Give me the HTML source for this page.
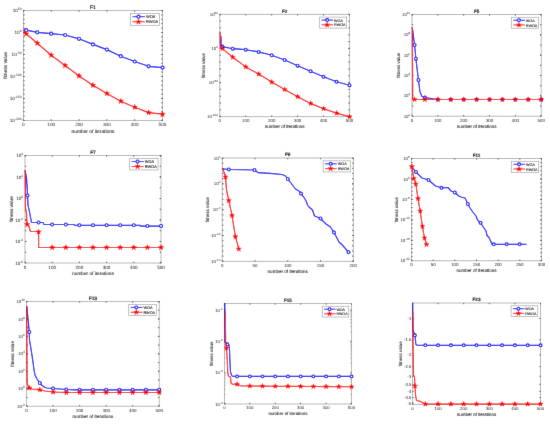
<!DOCTYPE html>
<html><head><meta charset="utf-8"><style>
html,body{margin:0;padding:0;background:#fff;}
svg{display:block;}
text.b{stroke:#262626;stroke-width:0.08px;}
text.t{stroke:#1a1a1a;stroke-width:0.22px;}
</style></head><body>
<svg width="550" height="424" viewBox="0 0 550 424" font-family='"Liberation Sans", Arial, Helvetica, sans-serif' text-rendering="geometricPrecision">
<defs><filter id="bl" x="0" y="0" width="550" height="424" filterUnits="userSpaceOnUse"><feConvolveMatrix order="3" kernelMatrix="0 1 0 1 12 1 0 1 0" edgeMode="duplicate" preserveAlpha="false"/></filter></defs>
<rect width="550" height="424" fill="#fff"/>
<g filter="url(#bl)">
<rect x="23.40" y="10.50" width="139.10" height="110.00" fill="#fff" stroke="none"/>
<rect x="23.40" y="10.50" width="139.10" height="110.00" fill="none" stroke="#a6a6a6" stroke-width="0.8"/>
<path d="M23.40,120.50v-1.30M23.40,10.50v1.30M51.22,120.50v-1.30M51.22,10.50v1.30M79.04,120.50v-1.30M79.04,10.50v1.30M106.86,120.50v-1.30M106.86,10.50v1.30M134.68,120.50v-1.30M134.68,10.50v1.30M162.50,120.50v-1.30M162.50,10.50v1.30M23.40,10.50h1.30M162.50,10.50h-1.30M23.40,32.50h1.30M162.50,32.50h-1.30M23.40,54.50h1.30M162.50,54.50h-1.30M23.40,76.50h1.30M162.50,76.50h-1.30M23.40,98.50h1.30M162.50,98.50h-1.30M23.40,120.50h1.30M162.50,120.50h-1.30" stroke="#444" stroke-width="0.9" fill="none"/>
<path d="M23.40,14.90h1.30M162.50,14.90h-1.30M23.40,19.30h1.30M162.50,19.30h-1.30M23.40,23.70h1.30M162.50,23.70h-1.30M23.40,28.10h1.30M162.50,28.10h-1.30M23.40,32.50h1.30M162.50,32.50h-1.30M23.40,36.90h1.30M162.50,36.90h-1.30M23.40,41.30h1.30M162.50,41.30h-1.30M23.40,45.70h1.30M162.50,45.70h-1.30M23.40,50.10h1.30M162.50,50.10h-1.30M23.40,54.50h1.30M162.50,54.50h-1.30M23.40,58.90h1.30M162.50,58.90h-1.30M23.40,63.30h1.30M162.50,63.30h-1.30M23.40,67.70h1.30M162.50,67.70h-1.30M23.40,72.10h1.30M162.50,72.10h-1.30M23.40,76.50h1.30M162.50,76.50h-1.30M23.40,80.90h1.30M162.50,80.90h-1.30M23.40,85.30h1.30M162.50,85.30h-1.30M23.40,89.70h1.30M162.50,89.70h-1.30M23.40,94.10h1.30M162.50,94.10h-1.30M23.40,98.50h1.30M162.50,98.50h-1.30M23.40,102.90h1.30M162.50,102.90h-1.30M23.40,107.30h1.30M162.50,107.30h-1.30M23.40,111.70h1.30M162.50,111.70h-1.30M23.40,116.10h1.30M162.50,116.10h-1.30" stroke="#444" stroke-width="0.9" fill="none"/>
<polyline points="23.70,30.30 26.18,30.20 37.31,32.30 51.22,33.70 65.13,35.00 79.04,38.80 92.95,44.40 106.86,49.60 120.77,56.20 134.68,61.50 148.59,66.30 162.50,67.60" fill="none" stroke="#0000ff" stroke-width="1.20" stroke-linejoin="round" stroke-linecap="round"/>
<circle cx="26.18" cy="30.20" r="1.55" fill="#fff" stroke="#0000ff" stroke-width="1.1"/>
<circle cx="37.31" cy="32.30" r="1.55" fill="#fff" stroke="#0000ff" stroke-width="1.1"/>
<circle cx="51.22" cy="33.70" r="1.55" fill="#fff" stroke="#0000ff" stroke-width="1.1"/>
<circle cx="65.13" cy="35.00" r="1.55" fill="#fff" stroke="#0000ff" stroke-width="1.1"/>
<circle cx="79.04" cy="38.80" r="1.55" fill="#fff" stroke="#0000ff" stroke-width="1.1"/>
<circle cx="92.95" cy="44.40" r="1.55" fill="#fff" stroke="#0000ff" stroke-width="1.1"/>
<circle cx="106.86" cy="49.60" r="1.55" fill="#fff" stroke="#0000ff" stroke-width="1.1"/>
<circle cx="120.77" cy="56.20" r="1.55" fill="#fff" stroke="#0000ff" stroke-width="1.1"/>
<circle cx="134.68" cy="61.50" r="1.55" fill="#fff" stroke="#0000ff" stroke-width="1.1"/>
<circle cx="148.59" cy="66.30" r="1.55" fill="#fff" stroke="#0000ff" stroke-width="1.1"/>
<circle cx="162.50" cy="67.60" r="1.55" fill="#fff" stroke="#0000ff" stroke-width="1.1"/>
<polyline points="23.70,30.40 26.18,33.80 37.31,43.20 51.22,55.20 65.13,65.50 79.04,75.90 92.95,85.30 106.86,93.50 120.77,101.20 134.68,107.20 148.59,112.60 162.50,114.20" fill="none" stroke="#ff0000" stroke-width="1.20" stroke-linejoin="round" stroke-linecap="round"/>
<path d="M26.18,31.00 L26.84,32.89 L28.84,32.93 L27.25,34.15 L27.83,36.07 L26.18,34.92 L24.54,36.07 L25.12,34.15 L23.52,32.93 L25.52,32.89 Z" fill="#ff0000" stroke="#ff0000" stroke-width="0.5"/>
<path d="M37.31,40.40 L37.97,42.29 L39.97,42.33 L38.38,43.55 L38.96,45.47 L37.31,44.32 L35.66,45.47 L36.24,43.55 L34.65,42.33 L36.65,42.29 Z" fill="#ff0000" stroke="#ff0000" stroke-width="0.5"/>
<path d="M51.22,52.40 L51.88,54.29 L53.88,54.33 L52.29,55.55 L52.87,57.47 L51.22,56.32 L49.57,57.47 L50.15,55.55 L48.56,54.33 L50.56,54.29 Z" fill="#ff0000" stroke="#ff0000" stroke-width="0.5"/>
<path d="M65.13,62.70 L65.79,64.59 L67.79,64.63 L66.20,65.85 L66.78,67.77 L65.13,66.62 L63.48,67.77 L64.06,65.85 L62.47,64.63 L64.47,64.59 Z" fill="#ff0000" stroke="#ff0000" stroke-width="0.5"/>
<path d="M79.04,73.10 L79.70,74.99 L81.70,75.03 L80.11,76.25 L80.69,78.17 L79.04,77.02 L77.39,78.17 L77.97,76.25 L76.38,75.03 L78.38,74.99 Z" fill="#ff0000" stroke="#ff0000" stroke-width="0.5"/>
<path d="M92.95,82.50 L93.61,84.39 L95.61,84.43 L94.02,85.65 L94.60,87.57 L92.95,86.42 L91.30,87.57 L91.88,85.65 L90.29,84.43 L92.29,84.39 Z" fill="#ff0000" stroke="#ff0000" stroke-width="0.5"/>
<path d="M106.86,90.70 L107.52,92.59 L109.52,92.63 L107.93,93.85 L108.51,95.77 L106.86,94.62 L105.21,95.77 L105.79,93.85 L104.20,92.63 L106.20,92.59 Z" fill="#ff0000" stroke="#ff0000" stroke-width="0.5"/>
<path d="M120.77,98.40 L121.43,100.29 L123.43,100.33 L121.84,101.55 L122.42,103.47 L120.77,102.32 L119.12,103.47 L119.70,101.55 L118.11,100.33 L120.11,100.29 Z" fill="#ff0000" stroke="#ff0000" stroke-width="0.5"/>
<path d="M134.68,104.40 L135.34,106.29 L137.34,106.33 L135.75,107.55 L136.33,109.47 L134.68,108.32 L133.03,109.47 L133.61,107.55 L132.02,106.33 L134.02,106.29 Z" fill="#ff0000" stroke="#ff0000" stroke-width="0.5"/>
<path d="M148.59,109.80 L149.25,111.69 L151.25,111.73 L149.66,112.95 L150.24,114.87 L148.59,113.72 L146.94,114.87 L147.52,112.95 L145.93,111.73 L147.93,111.69 Z" fill="#ff0000" stroke="#ff0000" stroke-width="0.5"/>
<path d="M162.50,111.40 L163.16,113.29 L165.16,113.33 L163.57,114.55 L164.15,116.47 L162.50,115.32 L160.85,116.47 L161.43,114.55 L159.84,113.33 L161.84,113.29 Z" fill="#ff0000" stroke="#ff0000" stroke-width="0.5"/>
<text x="23.40" y="126.49" font-size="4.70" text-anchor="middle" fill="#262626">0</text>
<text x="51.22" y="126.49" font-size="4.70" text-anchor="middle" fill="#262626">100</text>
<text x="79.04" y="126.49" font-size="4.70" text-anchor="middle" fill="#262626">200</text>
<text x="106.86" y="126.49" font-size="4.70" text-anchor="middle" fill="#262626">300</text>
<text x="134.68" y="126.49" font-size="4.70" text-anchor="middle" fill="#262626">400</text>
<text x="162.50" y="126.49" font-size="4.70" text-anchor="middle" fill="#262626">500</text>
<text x="21.50" y="12.19" font-size="4.70" text-anchor="end" fill="#262626">10<tspan font-size="3.29" dy="-2.12">50</tspan></text>
<text x="21.50" y="34.19" font-size="4.70" text-anchor="end" fill="#262626">10<tspan font-size="3.29" dy="-2.12">0</tspan></text>
<text x="21.50" y="56.19" font-size="4.70" text-anchor="end" fill="#262626">10<tspan font-size="3.29" dy="-2.12">-50</tspan></text>
<text x="21.50" y="78.19" font-size="4.70" text-anchor="end" fill="#262626">10<tspan font-size="3.29" dy="-2.12">-100</tspan></text>
<text x="21.50" y="100.19" font-size="4.70" text-anchor="end" fill="#262626">10<tspan font-size="3.29" dy="-2.12">-150</tspan></text>
<text x="21.50" y="122.19" font-size="4.70" text-anchor="end" fill="#262626">10<tspan font-size="3.29" dy="-2.12">-200</tspan></text>
<text x="92.95" y="8.70" font-size="5.00" text-anchor="middle" fill="#262626" class="t">F1</text>
<text x="92.95" y="132.75" font-size="4.85" text-anchor="middle" fill="#262626" class="b">number of iterations</text>
<text x="0" y="0" font-size="4.85" text-anchor="middle" fill="#262626" class="b" transform="translate(7.16,65.50) rotate(-90)">fitness value</text>
<rect x="130.50" y="13.50" width="29.00" height="11.80" fill="#fff" stroke="#a6a6a6" stroke-width="0.7"/>
<line x1="132.50" y1="16.70" x2="145.00" y2="16.70" stroke="#0000ff" stroke-width="0.9"/>
<circle cx="138.50" cy="16.70" r="1.55" fill="#fff" stroke="#0000ff" stroke-width="1.1"/>
<text x="146.00" y="18.39" font-size="3.95" fill="#222" stroke="#222" stroke-width="0.12">WOA</text>
<line x1="132.50" y1="21.80" x2="145.00" y2="21.80" stroke="#ff0000" stroke-width="0.9"/>
<path d="M138.50,19.00 L139.16,20.89 L141.16,20.93 L139.57,22.15 L140.15,24.07 L138.50,22.92 L136.85,24.07 L137.43,22.15 L135.84,20.93 L137.84,20.89 Z" fill="#ff0000" stroke="#ff0000" stroke-width="0.5"/>
<text x="146.00" y="23.49" font-size="3.95" fill="#222" stroke="#222" stroke-width="0.12">RWOA</text>
<rect x="219.80" y="14.30" width="129.70" height="102.40" fill="#fff" stroke="none"/>
<rect x="219.80" y="14.30" width="129.70" height="102.40" fill="none" stroke="#a6a6a6" stroke-width="0.8"/>
<path d="M219.80,116.70v-1.21M219.80,14.30v1.21M245.74,116.70v-1.21M245.74,14.30v1.21M271.68,116.70v-1.21M271.68,14.30v1.21M297.62,116.70v-1.21M297.62,14.30v1.21M323.56,116.70v-1.21M323.56,14.30v1.21M349.50,116.70v-1.21M349.50,14.30v1.21M219.80,14.30h1.21M349.50,14.30h-1.21M219.80,48.43h1.21M349.50,48.43h-1.21M219.80,82.57h1.21M349.50,82.57h-1.21M219.80,116.70h1.21M349.50,116.70h-1.21" stroke="#444" stroke-width="0.9" fill="none"/>
<path d="M219.80,21.13h1.21M349.50,21.13h-1.21M219.80,27.95h1.21M349.50,27.95h-1.21M219.80,34.78h1.21M349.50,34.78h-1.21M219.80,41.61h1.21M349.50,41.61h-1.21M219.80,48.43h1.21M349.50,48.43h-1.21M219.80,55.26h1.21M349.50,55.26h-1.21M219.80,62.09h1.21M349.50,62.09h-1.21M219.80,68.91h1.21M349.50,68.91h-1.21M219.80,75.74h1.21M349.50,75.74h-1.21M219.80,82.57h1.21M349.50,82.57h-1.21M219.80,89.39h1.21M349.50,89.39h-1.21M219.80,96.22h1.21M349.50,96.22h-1.21M219.80,103.05h1.21M349.50,103.05h-1.21M219.80,109.87h1.21M349.50,109.87h-1.21" stroke="#444" stroke-width="0.9" fill="none"/>
<polyline points="221.00,36.50 221.10,46.00 222.39,46.60 232.77,48.70 245.74,49.70 258.71,51.90 271.68,55.20 284.65,60.00 297.62,65.70 310.59,71.20 323.56,76.80 336.53,81.80 349.50,85.20" fill="none" stroke="#0000ff" stroke-width="1.16" stroke-linejoin="round" stroke-linecap="round"/>
<circle cx="222.39" cy="46.60" r="1.45" fill="#fff" stroke="#0000ff" stroke-width="1.1"/>
<circle cx="232.77" cy="48.70" r="1.45" fill="#fff" stroke="#0000ff" stroke-width="1.1"/>
<circle cx="245.74" cy="49.70" r="1.45" fill="#fff" stroke="#0000ff" stroke-width="1.1"/>
<circle cx="258.71" cy="51.90" r="1.45" fill="#fff" stroke="#0000ff" stroke-width="1.1"/>
<circle cx="271.68" cy="55.20" r="1.45" fill="#fff" stroke="#0000ff" stroke-width="1.1"/>
<circle cx="284.65" cy="60.00" r="1.45" fill="#fff" stroke="#0000ff" stroke-width="1.1"/>
<circle cx="297.62" cy="65.70" r="1.45" fill="#fff" stroke="#0000ff" stroke-width="1.1"/>
<circle cx="310.59" cy="71.20" r="1.45" fill="#fff" stroke="#0000ff" stroke-width="1.1"/>
<circle cx="323.56" cy="76.80" r="1.45" fill="#fff" stroke="#0000ff" stroke-width="1.1"/>
<circle cx="336.53" cy="81.80" r="1.45" fill="#fff" stroke="#0000ff" stroke-width="1.1"/>
<circle cx="349.50" cy="85.20" r="1.45" fill="#fff" stroke="#0000ff" stroke-width="1.1"/>
<polyline points="220.20,32.00 220.30,46.50 222.39,48.60 232.77,57.20 245.74,66.90 258.71,74.10 271.68,82.10 284.65,89.50 297.62,96.70 310.59,103.40 323.56,108.70 336.53,113.10 349.50,116.70" fill="none" stroke="#ff0000" stroke-width="1.16" stroke-linejoin="round" stroke-linecap="round"/>
<path d="M222.39,45.99 L223.01,47.76 L224.88,47.79 L223.39,48.92 L223.93,50.71 L222.39,49.64 L220.86,50.71 L221.40,48.92 L219.91,47.79 L221.78,47.76 Z" fill="#ff0000" stroke="#ff0000" stroke-width="0.5"/>
<path d="M232.77,54.59 L233.38,56.36 L235.25,56.39 L233.76,57.52 L234.30,59.31 L232.77,58.24 L231.24,59.31 L231.78,57.52 L230.29,56.39 L232.16,56.36 Z" fill="#ff0000" stroke="#ff0000" stroke-width="0.5"/>
<path d="M245.74,64.29 L246.35,66.06 L248.22,66.09 L246.73,67.22 L247.27,69.01 L245.74,67.94 L244.21,69.01 L244.75,67.22 L243.26,66.09 L245.13,66.06 Z" fill="#ff0000" stroke="#ff0000" stroke-width="0.5"/>
<path d="M258.71,71.49 L259.32,73.26 L261.19,73.29 L259.70,74.42 L260.24,76.21 L258.71,75.14 L257.18,76.21 L257.72,74.42 L256.23,73.29 L258.10,73.26 Z" fill="#ff0000" stroke="#ff0000" stroke-width="0.5"/>
<path d="M271.68,79.49 L272.29,81.26 L274.16,81.29 L272.67,82.42 L273.21,84.21 L271.68,83.14 L270.15,84.21 L270.69,82.42 L269.20,81.29 L271.07,81.26 Z" fill="#ff0000" stroke="#ff0000" stroke-width="0.5"/>
<path d="M284.65,86.89 L285.26,88.66 L287.13,88.69 L285.64,89.82 L286.18,91.61 L284.65,90.54 L283.12,91.61 L283.66,89.82 L282.17,88.69 L284.04,88.66 Z" fill="#ff0000" stroke="#ff0000" stroke-width="0.5"/>
<path d="M297.62,94.09 L298.23,95.86 L300.10,95.89 L298.61,97.02 L299.15,98.81 L297.62,97.74 L296.09,98.81 L296.63,97.02 L295.14,95.89 L297.01,95.86 Z" fill="#ff0000" stroke="#ff0000" stroke-width="0.5"/>
<path d="M310.59,100.79 L311.20,102.56 L313.07,102.59 L311.58,103.72 L312.12,105.51 L310.59,104.44 L309.06,105.51 L309.60,103.72 L308.11,102.59 L309.98,102.56 Z" fill="#ff0000" stroke="#ff0000" stroke-width="0.5"/>
<path d="M323.56,106.09 L324.17,107.86 L326.04,107.89 L324.55,109.02 L325.09,110.81 L323.56,109.74 L322.03,110.81 L322.57,109.02 L321.08,107.89 L322.95,107.86 Z" fill="#ff0000" stroke="#ff0000" stroke-width="0.5"/>
<path d="M336.53,110.49 L337.14,112.26 L339.01,112.29 L337.52,113.42 L338.06,115.21 L336.53,114.14 L335.00,115.21 L335.54,113.42 L334.05,112.29 L335.92,112.26 Z" fill="#ff0000" stroke="#ff0000" stroke-width="0.5"/>
<path d="M349.50,114.09 L350.11,115.86 L351.98,115.89 L350.49,117.02 L351.03,118.81 L349.50,117.74 L347.97,118.81 L348.51,117.02 L347.02,115.89 L348.89,115.86 Z" fill="#ff0000" stroke="#ff0000" stroke-width="0.5"/>
<text x="219.80" y="122.29" font-size="4.38" text-anchor="middle" fill="#262626">0</text>
<text x="245.74" y="122.29" font-size="4.38" text-anchor="middle" fill="#262626">100</text>
<text x="271.68" y="122.29" font-size="4.38" text-anchor="middle" fill="#262626">200</text>
<text x="297.62" y="122.29" font-size="4.38" text-anchor="middle" fill="#262626">300</text>
<text x="323.56" y="122.29" font-size="4.38" text-anchor="middle" fill="#262626">400</text>
<text x="349.50" y="122.29" font-size="4.38" text-anchor="middle" fill="#262626">500</text>
<text x="218.03" y="15.88" font-size="4.38" text-anchor="end" fill="#262626">10<tspan font-size="3.07" dy="-1.97">50</tspan></text>
<text x="218.03" y="50.01" font-size="4.38" text-anchor="end" fill="#262626">10<tspan font-size="3.07" dy="-1.97">0</tspan></text>
<text x="218.03" y="84.14" font-size="4.38" text-anchor="end" fill="#262626">10<tspan font-size="3.07" dy="-1.97">-50</tspan></text>
<text x="218.03" y="118.28" font-size="4.38" text-anchor="end" fill="#262626">10<tspan font-size="3.07" dy="-1.97">-100</tspan></text>
<text x="284.65" y="12.62" font-size="4.66" text-anchor="middle" fill="#262626" class="t">F2</text>
<text x="284.65" y="128.12" font-size="4.52" text-anchor="middle" fill="#262626" class="b">number of iterations</text>
<text x="0" y="0" font-size="4.52" text-anchor="middle" fill="#262626" class="b" transform="translate(204.96,65.50) rotate(-90)">fitness value</text>
<rect x="319.66" y="17.10" width="27.04" height="11.00" fill="#fff" stroke="#a6a6a6" stroke-width="0.7"/>
<line x1="321.53" y1="20.08" x2="333.18" y2="20.08" stroke="#0000ff" stroke-width="0.9"/>
<circle cx="327.12" cy="20.08" r="1.45" fill="#fff" stroke="#0000ff" stroke-width="1.1"/>
<text x="334.12" y="21.66" font-size="3.68" fill="#222" stroke="#222" stroke-width="0.12">WOA</text>
<line x1="321.53" y1="24.84" x2="333.18" y2="24.84" stroke="#ff0000" stroke-width="0.9"/>
<path d="M327.12,22.23 L327.74,23.99 L329.60,24.03 L328.12,25.16 L328.66,26.95 L327.12,25.88 L325.59,26.95 L326.13,25.16 L324.64,24.03 L326.51,23.99 Z" fill="#ff0000" stroke="#ff0000" stroke-width="0.5"/>
<text x="334.12" y="26.41" font-size="3.68" fill="#222" stroke="#222" stroke-width="0.12">RWOA</text>
<rect x="412.00" y="14.50" width="129.20" height="101.70" fill="#fff" stroke="none"/>
<rect x="412.00" y="14.50" width="129.20" height="101.70" fill="none" stroke="#a6a6a6" stroke-width="0.8"/>
<path d="M412.00,116.20v-1.21M412.00,14.50v1.21M437.84,116.20v-1.21M437.84,14.50v1.21M463.68,116.20v-1.21M463.68,14.50v1.21M489.52,116.20v-1.21M489.52,14.50v1.21M515.36,116.20v-1.21M515.36,14.50v1.21M541.20,116.20v-1.21M541.20,14.50v1.21M412.00,14.50h1.21M541.20,14.50h-1.21M412.00,34.84h1.21M541.20,34.84h-1.21M412.00,55.18h1.21M541.20,55.18h-1.21M412.00,75.52h1.21M541.20,75.52h-1.21M412.00,95.86h1.21M541.20,95.86h-1.21M412.00,116.20h1.21M541.20,116.20h-1.21" stroke="#444" stroke-width="0.9" fill="none"/>
<path d="M412.00,24.67h1.21M541.20,24.67h-1.21M412.00,34.84h1.21M541.20,34.84h-1.21M412.00,45.01h1.21M541.20,45.01h-1.21M412.00,55.18h1.21M541.20,55.18h-1.21M412.00,65.35h1.21M541.20,65.35h-1.21M412.00,75.52h1.21M541.20,75.52h-1.21M412.00,85.69h1.21M541.20,85.69h-1.21M412.00,95.86h1.21M541.20,95.86h-1.21M412.00,106.03h1.21M541.20,106.03h-1.21" stroke="#444" stroke-width="0.9" fill="none"/>
<polyline points="412.30,27.50 414.58,45.00 415.88,58.70 418.46,80.00 420.00,92.00 422.00,96.50 424.92,97.50 437.84,99.50 450.76,99.50 463.68,99.50 476.60,99.50 489.52,99.50 502.44,99.50 515.36,99.50 528.28,99.50 541.20,99.50" fill="none" stroke="#0000ff" stroke-width="1.16" stroke-linejoin="round" stroke-linecap="round"/>
<circle cx="414.58" cy="45.00" r="1.44" fill="#fff" stroke="#0000ff" stroke-width="1.1"/>
<circle cx="415.88" cy="58.70" r="1.44" fill="#fff" stroke="#0000ff" stroke-width="1.1"/>
<circle cx="418.46" cy="80.00" r="1.44" fill="#fff" stroke="#0000ff" stroke-width="1.1"/>
<circle cx="424.92" cy="97.50" r="1.44" fill="#fff" stroke="#0000ff" stroke-width="1.1"/>
<circle cx="437.84" cy="99.50" r="1.44" fill="#fff" stroke="#0000ff" stroke-width="1.1"/>
<circle cx="450.76" cy="99.50" r="1.44" fill="#fff" stroke="#0000ff" stroke-width="1.1"/>
<circle cx="463.68" cy="99.50" r="1.44" fill="#fff" stroke="#0000ff" stroke-width="1.1"/>
<circle cx="476.60" cy="99.50" r="1.44" fill="#fff" stroke="#0000ff" stroke-width="1.1"/>
<circle cx="489.52" cy="99.50" r="1.44" fill="#fff" stroke="#0000ff" stroke-width="1.1"/>
<circle cx="502.44" cy="99.50" r="1.44" fill="#fff" stroke="#0000ff" stroke-width="1.1"/>
<circle cx="515.36" cy="99.50" r="1.44" fill="#fff" stroke="#0000ff" stroke-width="1.1"/>
<circle cx="528.28" cy="99.50" r="1.44" fill="#fff" stroke="#0000ff" stroke-width="1.1"/>
<circle cx="541.20" cy="99.50" r="1.44" fill="#fff" stroke="#0000ff" stroke-width="1.1"/>
<polyline points="412.30,27.50 412.70,99.50 541.20,99.50" fill="none" stroke="#ff0000" stroke-width="1.16" stroke-linejoin="round" stroke-linecap="round"/>
<path d="M414.58,96.90 L415.20,98.66 L417.06,98.70 L415.57,99.82 L416.11,101.60 L414.58,100.54 L413.06,101.60 L413.59,99.82 L412.11,98.70 L413.97,98.66 Z" fill="#ff0000" stroke="#ff0000" stroke-width="0.5"/>
<path d="M424.92,96.90 L425.53,98.66 L427.39,98.70 L425.91,99.82 L426.45,101.60 L424.92,100.54 L423.39,101.60 L423.93,99.82 L422.45,98.70 L424.31,98.66 Z" fill="#ff0000" stroke="#ff0000" stroke-width="0.5"/>
<path d="M437.84,96.90 L438.45,98.66 L440.31,98.70 L438.83,99.82 L439.37,101.60 L437.84,100.54 L436.31,101.60 L436.85,99.82 L435.37,98.70 L437.23,98.66 Z" fill="#ff0000" stroke="#ff0000" stroke-width="0.5"/>
<path d="M450.76,96.90 L451.37,98.66 L453.23,98.70 L451.75,99.82 L452.29,101.60 L450.76,100.54 L449.23,101.60 L449.77,99.82 L448.29,98.70 L450.15,98.66 Z" fill="#ff0000" stroke="#ff0000" stroke-width="0.5"/>
<path d="M463.68,96.90 L464.29,98.66 L466.15,98.70 L464.67,99.82 L465.21,101.60 L463.68,100.54 L462.15,101.60 L462.69,99.82 L461.21,98.70 L463.07,98.66 Z" fill="#ff0000" stroke="#ff0000" stroke-width="0.5"/>
<path d="M476.60,96.90 L477.21,98.66 L479.07,98.70 L477.59,99.82 L478.13,101.60 L476.60,100.54 L475.07,101.60 L475.61,99.82 L474.13,98.70 L475.99,98.66 Z" fill="#ff0000" stroke="#ff0000" stroke-width="0.5"/>
<path d="M489.52,96.90 L490.13,98.66 L491.99,98.70 L490.51,99.82 L491.05,101.60 L489.52,100.54 L487.99,101.60 L488.53,99.82 L487.05,98.70 L488.91,98.66 Z" fill="#ff0000" stroke="#ff0000" stroke-width="0.5"/>
<path d="M502.44,96.90 L503.05,98.66 L504.91,98.70 L503.43,99.82 L503.97,101.60 L502.44,100.54 L500.91,101.60 L501.45,99.82 L499.97,98.70 L501.83,98.66 Z" fill="#ff0000" stroke="#ff0000" stroke-width="0.5"/>
<path d="M515.36,96.90 L515.97,98.66 L517.83,98.70 L516.35,99.82 L516.89,101.60 L515.36,100.54 L513.83,101.60 L514.37,99.82 L512.89,98.70 L514.75,98.66 Z" fill="#ff0000" stroke="#ff0000" stroke-width="0.5"/>
<path d="M528.28,96.90 L528.89,98.66 L530.75,98.70 L529.27,99.82 L529.81,101.60 L528.28,100.54 L526.75,101.60 L527.29,99.82 L525.81,98.70 L527.67,98.66 Z" fill="#ff0000" stroke="#ff0000" stroke-width="0.5"/>
<path d="M541.20,96.90 L541.81,98.66 L543.67,98.70 L542.19,99.82 L542.73,101.60 L541.20,100.54 L539.67,101.60 L540.21,99.82 L538.73,98.70 L540.59,98.66 Z" fill="#ff0000" stroke="#ff0000" stroke-width="0.5"/>
<text x="412.00" y="121.77" font-size="4.37" text-anchor="middle" fill="#262626">0</text>
<text x="437.84" y="121.77" font-size="4.37" text-anchor="middle" fill="#262626">100</text>
<text x="463.68" y="121.77" font-size="4.37" text-anchor="middle" fill="#262626">200</text>
<text x="489.52" y="121.77" font-size="4.37" text-anchor="middle" fill="#262626">300</text>
<text x="515.36" y="121.77" font-size="4.37" text-anchor="middle" fill="#262626">400</text>
<text x="541.20" y="121.77" font-size="4.37" text-anchor="middle" fill="#262626">500</text>
<text x="410.24" y="16.07" font-size="4.37" text-anchor="end" fill="#262626">10<tspan font-size="3.06" dy="-1.96">10</tspan></text>
<text x="410.24" y="36.41" font-size="4.37" text-anchor="end" fill="#262626">10<tspan font-size="3.06" dy="-1.96">8</tspan></text>
<text x="410.24" y="56.75" font-size="4.37" text-anchor="end" fill="#262626">10<tspan font-size="3.06" dy="-1.96">6</tspan></text>
<text x="410.24" y="77.09" font-size="4.37" text-anchor="end" fill="#262626">10<tspan font-size="3.06" dy="-1.96">4</tspan></text>
<text x="410.24" y="97.43" font-size="4.37" text-anchor="end" fill="#262626">10<tspan font-size="3.06" dy="-1.96">2</tspan></text>
<text x="410.24" y="117.77" font-size="4.37" text-anchor="end" fill="#262626">10<tspan font-size="3.06" dy="-1.96">0</tspan></text>
<text x="476.60" y="12.83" font-size="4.64" text-anchor="middle" fill="#262626" class="t">F5</text>
<text x="476.60" y="127.57" font-size="4.50" text-anchor="middle" fill="#262626" class="b">number of iterations</text>
<text x="0" y="0" font-size="4.50" text-anchor="middle" fill="#262626" class="b" transform="translate(399.75,65.35) rotate(-90)">fitness value</text>
<rect x="511.48" y="17.29" width="26.94" height="10.96" fill="#fff" stroke="#a6a6a6" stroke-width="0.7"/>
<line x1="513.34" y1="20.26" x2="524.95" y2="20.26" stroke="#0000ff" stroke-width="0.9"/>
<circle cx="518.91" cy="20.26" r="1.44" fill="#fff" stroke="#0000ff" stroke-width="1.1"/>
<text x="525.87" y="21.83" font-size="3.67" fill="#222" stroke="#222" stroke-width="0.12">WOA</text>
<line x1="513.34" y1="25.00" x2="524.95" y2="25.00" stroke="#ff0000" stroke-width="0.9"/>
<path d="M518.91,22.40 L519.52,24.15 L521.38,24.19 L519.90,25.32 L520.44,27.10 L518.91,26.04 L517.38,27.10 L517.92,25.32 L516.43,24.19 L518.30,24.15 Z" fill="#ff0000" stroke="#ff0000" stroke-width="0.5"/>
<text x="525.87" y="26.57" font-size="3.67" fill="#222" stroke="#222" stroke-width="0.12">RWOA</text>
<rect x="25.00" y="155.50" width="136.00" height="107.50" fill="#fff" stroke="none"/>
<rect x="25.00" y="155.50" width="136.00" height="107.50" fill="none" stroke="#a6a6a6" stroke-width="0.8"/>
<path d="M25.00,263.00v-1.27M25.00,155.50v1.27M52.20,263.00v-1.27M52.20,155.50v1.27M79.40,263.00v-1.27M79.40,155.50v1.27M106.60,263.00v-1.27M106.60,155.50v1.27M133.80,263.00v-1.27M133.80,155.50v1.27M161.00,263.00v-1.27M161.00,155.50v1.27M25.00,155.50h1.27M161.00,155.50h-1.27M25.00,177.00h1.27M161.00,177.00h-1.27M25.00,198.50h1.27M161.00,198.50h-1.27M25.00,220.00h1.27M161.00,220.00h-1.27M25.00,241.50h1.27M161.00,241.50h-1.27M25.00,263.00h1.27M161.00,263.00h-1.27" stroke="#444" stroke-width="0.9" fill="none"/>
<path d="M25.00,166.25h1.27M161.00,166.25h-1.27M25.00,177.00h1.27M161.00,177.00h-1.27M25.00,187.75h1.27M161.00,187.75h-1.27M25.00,198.50h1.27M161.00,198.50h-1.27M25.00,209.25h1.27M161.00,209.25h-1.27M25.00,220.00h1.27M161.00,220.00h-1.27M25.00,230.75h1.27M161.00,230.75h-1.27M25.00,241.50h1.27M161.00,241.50h-1.27M25.00,252.25h1.27M161.00,252.25h-1.27" stroke="#444" stroke-width="0.9" fill="none"/>
<polyline points="25.20,170.50 26.50,178.00 27.20,188.00 27.50,195.50 28.00,205.00 29.50,212.00 31.50,222.50 38.60,222.50 43.00,222.50 44.00,224.50 74.00,224.50 74.50,225.30 140.00,225.30 140.50,226.10 161.00,226.10" fill="none" stroke="#0000ff" stroke-width="1.19" stroke-linejoin="round" stroke-linecap="round"/>
<circle cx="27.50" cy="195.50" r="1.52" fill="#fff" stroke="#0000ff" stroke-width="1.1"/>
<circle cx="38.60" cy="222.50" r="1.52" fill="#fff" stroke="#0000ff" stroke-width="1.1"/>
<circle cx="52.20" cy="224.50" r="1.52" fill="#fff" stroke="#0000ff" stroke-width="1.1"/>
<circle cx="65.80" cy="224.50" r="1.52" fill="#fff" stroke="#0000ff" stroke-width="1.1"/>
<circle cx="79.40" cy="225.30" r="1.52" fill="#fff" stroke="#0000ff" stroke-width="1.1"/>
<circle cx="93.00" cy="225.30" r="1.52" fill="#fff" stroke="#0000ff" stroke-width="1.1"/>
<circle cx="106.60" cy="225.30" r="1.52" fill="#fff" stroke="#0000ff" stroke-width="1.1"/>
<circle cx="120.20" cy="225.30" r="1.52" fill="#fff" stroke="#0000ff" stroke-width="1.1"/>
<circle cx="133.80" cy="225.30" r="1.52" fill="#fff" stroke="#0000ff" stroke-width="1.1"/>
<circle cx="147.40" cy="226.00" r="1.52" fill="#fff" stroke="#0000ff" stroke-width="1.1"/>
<circle cx="161.00" cy="226.00" r="1.52" fill="#fff" stroke="#0000ff" stroke-width="1.1"/>
<polyline points="25.20,170.50 25.50,209.00 26.50,213.00 27.00,224.50 29.00,226.00 30.00,230.00 30.50,231.50 38.60,231.50 38.60,247.50 161.00,247.50" fill="none" stroke="#ff0000" stroke-width="1.19" stroke-linejoin="round" stroke-linecap="round"/>
<path d="M27.20,221.76 L27.84,223.61 L29.80,223.65 L28.24,224.84 L28.81,226.71 L27.20,225.60 L25.59,226.71 L26.16,224.84 L24.60,223.65 L26.56,223.61 Z" fill="#ff0000" stroke="#ff0000" stroke-width="0.5"/>
<path d="M38.60,229.06 L39.24,230.91 L41.20,230.95 L39.64,232.14 L40.21,234.01 L38.60,232.90 L36.99,234.01 L37.56,232.14 L36.00,230.95 L37.96,230.91 Z" fill="#ff0000" stroke="#ff0000" stroke-width="0.5"/>
<path d="M52.20,244.76 L52.84,246.61 L54.80,246.65 L53.24,247.84 L53.81,249.71 L52.20,248.60 L50.59,249.71 L51.16,247.84 L49.60,246.65 L51.56,246.61 Z" fill="#ff0000" stroke="#ff0000" stroke-width="0.5"/>
<path d="M65.80,244.76 L66.44,246.61 L68.40,246.65 L66.84,247.84 L67.41,249.71 L65.80,248.60 L64.19,249.71 L64.76,247.84 L63.20,246.65 L65.16,246.61 Z" fill="#ff0000" stroke="#ff0000" stroke-width="0.5"/>
<path d="M79.40,244.76 L80.04,246.61 L82.00,246.65 L80.44,247.84 L81.01,249.71 L79.40,248.60 L77.79,249.71 L78.36,247.84 L76.80,246.65 L78.76,246.61 Z" fill="#ff0000" stroke="#ff0000" stroke-width="0.5"/>
<path d="M93.00,244.76 L93.64,246.61 L95.60,246.65 L94.04,247.84 L94.61,249.71 L93.00,248.60 L91.39,249.71 L91.96,247.84 L90.40,246.65 L92.36,246.61 Z" fill="#ff0000" stroke="#ff0000" stroke-width="0.5"/>
<path d="M106.60,244.76 L107.24,246.61 L109.20,246.65 L107.64,247.84 L108.21,249.71 L106.60,248.60 L104.99,249.71 L105.56,247.84 L104.00,246.65 L105.96,246.61 Z" fill="#ff0000" stroke="#ff0000" stroke-width="0.5"/>
<path d="M120.20,244.76 L120.84,246.61 L122.80,246.65 L121.24,247.84 L121.81,249.71 L120.20,248.60 L118.59,249.71 L119.16,247.84 L117.60,246.65 L119.56,246.61 Z" fill="#ff0000" stroke="#ff0000" stroke-width="0.5"/>
<path d="M133.80,244.76 L134.44,246.61 L136.40,246.65 L134.84,247.84 L135.41,249.71 L133.80,248.60 L132.19,249.71 L132.76,247.84 L131.20,246.65 L133.16,246.61 Z" fill="#ff0000" stroke="#ff0000" stroke-width="0.5"/>
<path d="M147.40,244.76 L148.04,246.61 L150.00,246.65 L148.44,247.84 L149.01,249.71 L147.40,248.60 L145.79,249.71 L146.36,247.84 L144.80,246.65 L146.76,246.61 Z" fill="#ff0000" stroke="#ff0000" stroke-width="0.5"/>
<path d="M161.00,244.76 L161.64,246.61 L163.60,246.65 L162.04,247.84 L162.61,249.71 L161.00,248.60 L159.39,249.71 L159.96,247.84 L158.40,246.65 L160.36,246.61 Z" fill="#ff0000" stroke="#ff0000" stroke-width="0.5"/>
<text x="25.00" y="268.86" font-size="4.60" text-anchor="middle" fill="#262626">0</text>
<text x="52.20" y="268.86" font-size="4.60" text-anchor="middle" fill="#262626">100</text>
<text x="79.40" y="268.86" font-size="4.60" text-anchor="middle" fill="#262626">200</text>
<text x="106.60" y="268.86" font-size="4.60" text-anchor="middle" fill="#262626">300</text>
<text x="133.80" y="268.86" font-size="4.60" text-anchor="middle" fill="#262626">400</text>
<text x="161.00" y="268.86" font-size="4.60" text-anchor="middle" fill="#262626">500</text>
<text x="23.14" y="157.15" font-size="4.60" text-anchor="end" fill="#262626">10<tspan font-size="3.22" dy="-2.07">4</tspan></text>
<text x="23.14" y="178.65" font-size="4.60" text-anchor="end" fill="#262626">10<tspan font-size="3.22" dy="-2.07">2</tspan></text>
<text x="23.14" y="200.15" font-size="4.60" text-anchor="end" fill="#262626">10<tspan font-size="3.22" dy="-2.07">0</tspan></text>
<text x="23.14" y="221.65" font-size="4.60" text-anchor="end" fill="#262626">10<tspan font-size="3.22" dy="-2.07">-2</tspan></text>
<text x="23.14" y="243.15" font-size="4.60" text-anchor="end" fill="#262626">10<tspan font-size="3.22" dy="-2.07">-4</tspan></text>
<text x="23.14" y="264.65" font-size="4.60" text-anchor="end" fill="#262626">10<tspan font-size="3.22" dy="-2.07">-6</tspan></text>
<text x="93.00" y="153.74" font-size="4.89" text-anchor="middle" fill="#262626" class="t">F7</text>
<text x="93.00" y="274.97" font-size="4.74" text-anchor="middle" fill="#262626" class="b">number of iterations</text>
<text x="0" y="0" font-size="4.74" text-anchor="middle" fill="#262626" class="b" transform="translate(13.02,209.25) rotate(-90)">fitness value</text>
<rect x="129.71" y="158.43" width="28.35" height="11.54" fill="#fff" stroke="#a6a6a6" stroke-width="0.7"/>
<line x1="131.67" y1="161.56" x2="143.89" y2="161.56" stroke="#0000ff" stroke-width="0.9"/>
<circle cx="137.53" cy="161.56" r="1.52" fill="#fff" stroke="#0000ff" stroke-width="1.1"/>
<text x="144.87" y="163.22" font-size="3.86" fill="#222" stroke="#222" stroke-width="0.12">WOA</text>
<line x1="131.67" y1="166.55" x2="143.89" y2="166.55" stroke="#ff0000" stroke-width="0.9"/>
<path d="M137.53,163.81 L138.18,165.66 L140.14,165.70 L138.58,166.89 L139.14,168.76 L137.53,167.64 L135.93,168.76 L136.49,166.89 L134.93,165.70 L136.89,165.66 Z" fill="#ff0000" stroke="#ff0000" stroke-width="0.5"/>
<text x="144.87" y="168.20" font-size="3.86" fill="#222" stroke="#222" stroke-width="0.12">RWOA</text>
<rect x="222.20" y="158.00" width="131.10" height="103.30" fill="#fff" stroke="none"/>
<rect x="222.20" y="158.00" width="131.10" height="103.30" fill="none" stroke="#a6a6a6" stroke-width="0.8"/>
<path d="M222.20,261.30v-1.23M222.20,158.00v1.23M254.97,261.30v-1.23M254.97,158.00v1.23M287.75,261.30v-1.23M287.75,158.00v1.23M320.52,261.30v-1.23M320.52,158.00v1.23M353.30,261.30v-1.23M353.30,158.00v1.23M222.20,158.00h1.23M353.30,158.00h-1.23M222.20,183.82h1.23M353.30,183.82h-1.23M222.20,209.65h1.23M353.30,209.65h-1.23M222.20,235.48h1.23M353.30,235.48h-1.23M222.20,261.30h1.23M353.30,261.30h-1.23" stroke="#444" stroke-width="0.9" fill="none"/>
<path d="M222.20,163.16h1.23M353.30,163.16h-1.23M222.20,168.33h1.23M353.30,168.33h-1.23M222.20,173.50h1.23M353.30,173.50h-1.23M222.20,178.66h1.23M353.30,178.66h-1.23M222.20,183.82h1.23M353.30,183.82h-1.23M222.20,188.99h1.23M353.30,188.99h-1.23M222.20,194.16h1.23M353.30,194.16h-1.23M222.20,199.32h1.23M353.30,199.32h-1.23M222.20,204.49h1.23M353.30,204.49h-1.23M222.20,209.65h1.23M353.30,209.65h-1.23M222.20,214.81h1.23M353.30,214.81h-1.23M222.20,219.98h1.23M353.30,219.98h-1.23M222.20,225.15h1.23M353.30,225.15h-1.23M222.20,230.31h1.23M353.30,230.31h-1.23M222.20,235.48h1.23M353.30,235.48h-1.23M222.20,240.64h1.23M353.30,240.64h-1.23M222.20,245.81h1.23M353.30,245.81h-1.23M222.20,250.97h1.23M353.30,250.97h-1.23M222.20,256.13h1.23M353.30,256.13h-1.23" stroke="#444" stroke-width="0.9" fill="none"/>
<polyline points="222.50,168.80 228.80,169.50 254.50,170.00 258.00,172.60 270.00,173.30 282.00,174.50 285.50,176.00 287.80,179.00 291.00,183.00 295.50,189.00 299.00,191.00 301.00,193.50 305.00,199.00 306.50,202.00 307.50,205.00 309.00,207.00 312.50,210.00 314.50,216.00 316.00,216.50 320.50,218.50 326.00,224.00 330.50,227.00 334.00,232.50 339.00,242.00 342.30,245.00 348.50,252.20" fill="none" stroke="#0000ff" stroke-width="1.17" stroke-linejoin="round" stroke-linecap="round"/>
<circle cx="228.80" cy="169.50" r="1.46" fill="#fff" stroke="#0000ff" stroke-width="1.1"/>
<circle cx="254.50" cy="170.00" r="1.46" fill="#fff" stroke="#0000ff" stroke-width="1.1"/>
<circle cx="287.80" cy="179.00" r="1.46" fill="#fff" stroke="#0000ff" stroke-width="1.1"/>
<circle cx="301.00" cy="193.50" r="1.46" fill="#fff" stroke="#0000ff" stroke-width="1.1"/>
<circle cx="320.50" cy="218.50" r="1.46" fill="#fff" stroke="#0000ff" stroke-width="1.1"/>
<circle cx="334.00" cy="232.50" r="1.46" fill="#fff" stroke="#0000ff" stroke-width="1.1"/>
<circle cx="348.50" cy="252.20" r="1.46" fill="#fff" stroke="#0000ff" stroke-width="1.1"/>
<polyline points="222.50,168.80 224.00,172.00 225.50,177.00 226.50,190.00 228.80,200.50 232.00,215.50 235.40,236.70 238.80,249.00" fill="none" stroke="#ff0000" stroke-width="1.17" stroke-linejoin="round" stroke-linecap="round"/>
<path d="M225.50,174.36 L226.12,176.15 L228.01,176.18 L226.50,177.33 L227.05,179.13 L225.50,178.06 L223.95,179.13 L224.50,177.33 L222.99,176.18 L224.88,176.15 Z" fill="#ff0000" stroke="#ff0000" stroke-width="0.5"/>
<path d="M228.80,197.86 L229.42,199.65 L231.31,199.68 L229.80,200.83 L230.35,202.63 L228.80,201.56 L227.25,202.63 L227.80,200.83 L226.29,199.68 L228.18,199.65 Z" fill="#ff0000" stroke="#ff0000" stroke-width="0.5"/>
<path d="M232.00,212.86 L232.62,214.65 L234.51,214.68 L233.00,215.83 L233.55,217.63 L232.00,216.56 L230.45,217.63 L231.00,215.83 L229.49,214.68 L231.38,214.65 Z" fill="#ff0000" stroke="#ff0000" stroke-width="0.5"/>
<path d="M235.40,234.06 L236.02,235.85 L237.91,235.88 L236.40,237.03 L236.95,238.83 L235.40,237.76 L233.85,238.83 L234.40,237.03 L232.89,235.88 L234.78,235.85 Z" fill="#ff0000" stroke="#ff0000" stroke-width="0.5"/>
<path d="M238.80,246.36 L239.42,248.15 L241.31,248.18 L239.80,249.33 L240.35,251.13 L238.80,250.06 L237.25,251.13 L237.80,249.33 L236.29,248.18 L238.18,248.15 Z" fill="#ff0000" stroke="#ff0000" stroke-width="0.5"/>
<text x="222.20" y="266.95" font-size="4.43" text-anchor="middle" fill="#262626">0</text>
<text x="254.97" y="266.95" font-size="4.43" text-anchor="middle" fill="#262626">50</text>
<text x="287.75" y="266.95" font-size="4.43" text-anchor="middle" fill="#262626">100</text>
<text x="320.52" y="266.95" font-size="4.43" text-anchor="middle" fill="#262626">150</text>
<text x="353.30" y="266.95" font-size="4.43" text-anchor="middle" fill="#262626">200</text>
<text x="220.41" y="159.59" font-size="4.43" text-anchor="end" fill="#262626">10<tspan font-size="3.10" dy="-1.99">5</tspan></text>
<text x="220.41" y="185.42" font-size="4.43" text-anchor="end" fill="#262626">10<tspan font-size="3.10" dy="-1.99">0</tspan></text>
<text x="220.41" y="211.24" font-size="4.43" text-anchor="end" fill="#262626">10<tspan font-size="3.10" dy="-1.99">-5</tspan></text>
<text x="220.41" y="237.07" font-size="4.43" text-anchor="end" fill="#262626">10<tspan font-size="3.10" dy="-1.99">-10</tspan></text>
<text x="220.41" y="262.89" font-size="4.43" text-anchor="end" fill="#262626">10<tspan font-size="3.10" dy="-1.99">-15</tspan></text>
<text x="287.75" y="156.30" font-size="4.71" text-anchor="middle" fill="#262626" class="t">F9</text>
<text x="287.75" y="272.84" font-size="4.57" text-anchor="middle" fill="#262626" class="b">number of iterations</text>
<text x="0" y="0" font-size="4.57" text-anchor="middle" fill="#262626" class="b" transform="translate(209.07,209.65) rotate(-90)">fitness value</text>
<rect x="323.14" y="160.83" width="27.33" height="11.12" fill="#fff" stroke="#a6a6a6" stroke-width="0.7"/>
<line x1="325.03" y1="163.84" x2="336.81" y2="163.84" stroke="#0000ff" stroke-width="0.9"/>
<circle cx="330.68" cy="163.84" r="1.46" fill="#fff" stroke="#0000ff" stroke-width="1.1"/>
<text x="337.75" y="165.44" font-size="3.72" fill="#222" stroke="#222" stroke-width="0.12">WOA</text>
<line x1="325.03" y1="168.65" x2="336.81" y2="168.65" stroke="#ff0000" stroke-width="0.9"/>
<path d="M330.68,166.01 L331.30,167.80 L333.19,167.83 L331.68,168.98 L332.23,170.79 L330.68,169.71 L329.13,170.79 L329.68,168.98 L328.17,167.83 L330.06,167.80 Z" fill="#ff0000" stroke="#ff0000" stroke-width="0.5"/>
<text x="337.75" y="170.24" font-size="3.72" fill="#222" stroke="#222" stroke-width="0.12">RWOA</text>
<rect x="411.50" y="158.50" width="130.00" height="102.30" fill="#fff" stroke="none"/>
<rect x="411.50" y="158.50" width="130.00" height="102.30" fill="none" stroke="#a6a6a6" stroke-width="0.8"/>
<path d="M411.50,260.80v-1.21M411.50,158.50v1.21M433.17,260.80v-1.21M433.17,158.50v1.21M454.83,260.80v-1.21M454.83,158.50v1.21M476.50,260.80v-1.21M476.50,158.50v1.21M498.17,260.80v-1.21M498.17,158.50v1.21M519.83,260.80v-1.21M519.83,158.50v1.21M541.50,260.80v-1.21M541.50,158.50v1.21M411.50,158.50h1.21M541.50,158.50h-1.21M411.50,178.96h1.21M541.50,178.96h-1.21M411.50,199.42h1.21M541.50,199.42h-1.21M411.50,219.88h1.21M541.50,219.88h-1.21M411.50,240.34h1.21M541.50,240.34h-1.21M411.50,260.80h1.21M541.50,260.80h-1.21" stroke="#444" stroke-width="0.9" fill="none"/>
<path d="M411.50,162.59h1.21M541.50,162.59h-1.21M411.50,166.68h1.21M541.50,166.68h-1.21M411.50,170.78h1.21M541.50,170.78h-1.21M411.50,174.87h1.21M541.50,174.87h-1.21M411.50,178.96h1.21M541.50,178.96h-1.21M411.50,183.05h1.21M541.50,183.05h-1.21M411.50,187.14h1.21M541.50,187.14h-1.21M411.50,191.24h1.21M541.50,191.24h-1.21M411.50,195.33h1.21M541.50,195.33h-1.21M411.50,199.42h1.21M541.50,199.42h-1.21M411.50,203.51h1.21M541.50,203.51h-1.21M411.50,207.60h1.21M541.50,207.60h-1.21M411.50,211.70h1.21M541.50,211.70h-1.21M411.50,215.79h1.21M541.50,215.79h-1.21M411.50,219.88h1.21M541.50,219.88h-1.21M411.50,223.97h1.21M541.50,223.97h-1.21M411.50,228.06h1.21M541.50,228.06h-1.21M411.50,232.16h1.21M541.50,232.16h-1.21M411.50,236.25h1.21M541.50,236.25h-1.21M411.50,240.34h1.21M541.50,240.34h-1.21M411.50,244.43h1.21M541.50,244.43h-1.21M411.50,248.52h1.21M541.50,248.52h-1.21M411.50,252.62h1.21M541.50,252.62h-1.21M411.50,256.71h1.21M541.50,256.71h-1.21" stroke="#444" stroke-width="0.9" fill="none"/>
<polyline points="412.00,167.00 416.00,172.00 422.00,178.00 423.00,178.30 428.50,180.00 435.50,186.00 441.50,187.80 448.00,187.50 451.00,191.00 454.80,192.50 459.50,196.50 461.00,197.00 465.00,198.00 466.50,201.00 467.80,204.00 470.00,208.00 473.50,213.00 476.00,216.00 477.50,220.00 480.50,222.80 482.00,225.00 486.00,231.00 487.00,235.50 489.00,237.50 492.00,244.30 526.00,244.30" fill="none" stroke="#0000ff" stroke-width="1.16" stroke-linejoin="round" stroke-linecap="round"/>
<circle cx="416.00" cy="172.00" r="1.45" fill="#fff" stroke="#0000ff" stroke-width="1.1"/>
<circle cx="428.50" cy="180.00" r="1.45" fill="#fff" stroke="#0000ff" stroke-width="1.1"/>
<circle cx="441.50" cy="187.80" r="1.45" fill="#fff" stroke="#0000ff" stroke-width="1.1"/>
<circle cx="454.80" cy="192.50" r="1.45" fill="#fff" stroke="#0000ff" stroke-width="1.1"/>
<circle cx="467.80" cy="204.00" r="1.45" fill="#fff" stroke="#0000ff" stroke-width="1.1"/>
<circle cx="480.50" cy="222.80" r="1.45" fill="#fff" stroke="#0000ff" stroke-width="1.1"/>
<circle cx="493.70" cy="244.30" r="1.45" fill="#fff" stroke="#0000ff" stroke-width="1.1"/>
<circle cx="506.60" cy="244.30" r="1.45" fill="#fff" stroke="#0000ff" stroke-width="1.1"/>
<circle cx="519.60" cy="244.30" r="1.45" fill="#fff" stroke="#0000ff" stroke-width="1.1"/>
<polyline points="411.90,166.60 413.80,178.50 415.80,184.00 418.00,198.50 420.20,211.00 422.40,226.30 424.50,238.00 426.50,244.50" fill="none" stroke="#ff0000" stroke-width="1.16" stroke-linejoin="round" stroke-linecap="round"/>
<path d="M411.90,163.98 L412.52,165.75 L414.39,165.79 L412.90,166.92 L413.44,168.72 L411.90,167.65 L410.36,168.72 L410.90,166.92 L409.41,165.79 L411.28,165.75 Z" fill="#ff0000" stroke="#ff0000" stroke-width="0.5"/>
<path d="M413.80,175.88 L414.42,177.65 L416.29,177.69 L414.80,178.82 L415.34,180.62 L413.80,179.55 L412.26,180.62 L412.80,178.82 L411.31,177.69 L413.18,177.65 Z" fill="#ff0000" stroke="#ff0000" stroke-width="0.5"/>
<path d="M415.80,181.38 L416.42,183.15 L418.29,183.19 L416.80,184.32 L417.34,186.12 L415.80,185.05 L414.26,186.12 L414.80,184.32 L413.31,183.19 L415.18,183.15 Z" fill="#ff0000" stroke="#ff0000" stroke-width="0.5"/>
<path d="M418.00,195.88 L418.62,197.65 L420.49,197.69 L419.00,198.82 L419.54,200.62 L418.00,199.55 L416.46,200.62 L417.00,198.82 L415.51,197.69 L417.38,197.65 Z" fill="#ff0000" stroke="#ff0000" stroke-width="0.5"/>
<path d="M420.20,208.38 L420.82,210.15 L422.69,210.19 L421.20,211.32 L421.74,213.12 L420.20,212.05 L418.66,213.12 L419.20,211.32 L417.71,210.19 L419.58,210.15 Z" fill="#ff0000" stroke="#ff0000" stroke-width="0.5"/>
<path d="M422.40,223.68 L423.02,225.45 L424.89,225.49 L423.40,226.62 L423.94,228.42 L422.40,227.35 L420.86,228.42 L421.40,226.62 L419.91,225.49 L421.78,225.45 Z" fill="#ff0000" stroke="#ff0000" stroke-width="0.5"/>
<path d="M424.50,235.38 L425.12,237.15 L426.99,237.19 L425.50,238.32 L426.04,240.12 L424.50,239.05 L422.96,240.12 L423.50,238.32 L422.01,237.19 L423.88,237.15 Z" fill="#ff0000" stroke="#ff0000" stroke-width="0.5"/>
<path d="M426.50,241.88 L427.12,243.65 L428.99,243.69 L427.50,244.82 L428.04,246.62 L426.50,245.55 L424.96,246.62 L425.50,244.82 L424.01,243.69 L425.88,243.65 Z" fill="#ff0000" stroke="#ff0000" stroke-width="0.5"/>
<text x="411.50" y="266.40" font-size="4.39" text-anchor="middle" fill="#262626">0</text>
<text x="433.17" y="266.40" font-size="4.39" text-anchor="middle" fill="#262626">50</text>
<text x="454.83" y="266.40" font-size="4.39" text-anchor="middle" fill="#262626">100</text>
<text x="476.50" y="266.40" font-size="4.39" text-anchor="middle" fill="#262626">150</text>
<text x="498.17" y="266.40" font-size="4.39" text-anchor="middle" fill="#262626">200</text>
<text x="519.83" y="266.40" font-size="4.39" text-anchor="middle" fill="#262626">250</text>
<text x="541.50" y="266.40" font-size="4.39" text-anchor="middle" fill="#262626">300</text>
<text x="409.72" y="160.08" font-size="4.39" text-anchor="end" fill="#262626">10<tspan font-size="3.07" dy="-1.98">5</tspan></text>
<text x="409.72" y="180.54" font-size="4.39" text-anchor="end" fill="#262626">10<tspan font-size="3.07" dy="-1.98">0</tspan></text>
<text x="409.72" y="201.00" font-size="4.39" text-anchor="end" fill="#262626">10<tspan font-size="3.07" dy="-1.98">-5</tspan></text>
<text x="409.72" y="221.46" font-size="4.39" text-anchor="end" fill="#262626">10<tspan font-size="3.07" dy="-1.98">-10</tspan></text>
<text x="409.72" y="241.92" font-size="4.39" text-anchor="end" fill="#262626">10<tspan font-size="3.07" dy="-1.98">-15</tspan></text>
<text x="409.72" y="262.38" font-size="4.39" text-anchor="end" fill="#262626">10<tspan font-size="3.07" dy="-1.98">-20</tspan></text>
<text x="476.50" y="156.82" font-size="4.67" text-anchor="middle" fill="#262626" class="t">F11</text>
<text x="476.50" y="272.24" font-size="4.53" text-anchor="middle" fill="#262626" class="b">number of iterations</text>
<text x="0" y="0" font-size="4.53" text-anchor="middle" fill="#262626" class="b" transform="translate(398.16,209.65) rotate(-90)">fitness value</text>
<rect x="511.59" y="161.30" width="27.10" height="11.03" fill="#fff" stroke="#a6a6a6" stroke-width="0.7"/>
<line x1="513.46" y1="164.29" x2="525.14" y2="164.29" stroke="#0000ff" stroke-width="0.9"/>
<circle cx="519.07" cy="164.29" r="1.45" fill="#fff" stroke="#0000ff" stroke-width="1.1"/>
<text x="526.08" y="165.88" font-size="3.69" fill="#222" stroke="#222" stroke-width="0.12">WOA</text>
<line x1="513.46" y1="169.06" x2="525.14" y2="169.06" stroke="#ff0000" stroke-width="0.9"/>
<path d="M519.07,166.44 L519.69,168.21 L521.56,168.25 L520.07,169.38 L520.61,171.18 L519.07,170.11 L517.53,171.18 L518.07,169.38 L516.58,168.25 L518.45,168.21 Z" fill="#ff0000" stroke="#ff0000" stroke-width="0.5"/>
<text x="526.08" y="170.64" font-size="3.69" fill="#222" stroke="#222" stroke-width="0.12">RWOA</text>
<rect x="26.60" y="301.50" width="132.60" height="104.70" fill="#fff" stroke="none"/>
<rect x="26.60" y="301.50" width="132.60" height="104.70" fill="none" stroke="#a6a6a6" stroke-width="0.8"/>
<path d="M26.60,406.20v-1.24M26.60,301.50v1.24M53.12,406.20v-1.24M53.12,301.50v1.24M79.64,406.20v-1.24M79.64,301.50v1.24M106.16,406.20v-1.24M106.16,301.50v1.24M132.68,406.20v-1.24M132.68,301.50v1.24M159.20,406.20v-1.24M159.20,301.50v1.24M26.60,301.50h1.24M159.20,301.50h-1.24M26.60,318.95h1.24M159.20,318.95h-1.24M26.60,336.40h1.24M159.20,336.40h-1.24M26.60,353.85h1.24M159.20,353.85h-1.24M26.60,371.30h1.24M159.20,371.30h-1.24M26.60,388.75h1.24M159.20,388.75h-1.24M26.60,406.20h1.24M159.20,406.20h-1.24" stroke="#444" stroke-width="0.9" fill="none"/>
<path d="M26.60,310.23h1.24M159.20,310.23h-1.24M26.60,318.95h1.24M159.20,318.95h-1.24M26.60,327.68h1.24M159.20,327.68h-1.24M26.60,336.40h1.24M159.20,336.40h-1.24M26.60,345.12h1.24M159.20,345.12h-1.24M26.60,353.85h1.24M159.20,353.85h-1.24M26.60,362.57h1.24M159.20,362.57h-1.24M26.60,371.30h1.24M159.20,371.30h-1.24M26.60,380.02h1.24M159.20,380.02h-1.24M26.60,388.75h1.24M159.20,388.75h-1.24M26.60,397.47h1.24M159.20,397.47h-1.24" stroke="#444" stroke-width="0.9" fill="none"/>
<polyline points="26.80,306.50 29.30,332.00 29.50,340.00 31.50,352.00 33.00,362.00 34.00,370.00 35.00,375.00 37.00,379.00 39.80,383.00 42.00,385.50 45.00,387.50 47.00,388.00 53.10,388.50 60.00,389.00 66.30,389.50 75.00,389.80 79.64,389.80 92.90,389.80 106.16,389.80 119.42,389.80 132.68,389.80 145.94,389.80 159.20,389.80" fill="none" stroke="#0000ff" stroke-width="1.17" stroke-linejoin="round" stroke-linecap="round"/>
<circle cx="29.30" cy="332.00" r="1.48" fill="#fff" stroke="#0000ff" stroke-width="1.1"/>
<circle cx="39.80" cy="383.00" r="1.48" fill="#fff" stroke="#0000ff" stroke-width="1.1"/>
<circle cx="53.10" cy="388.50" r="1.48" fill="#fff" stroke="#0000ff" stroke-width="1.1"/>
<circle cx="66.30" cy="389.50" r="1.48" fill="#fff" stroke="#0000ff" stroke-width="1.1"/>
<circle cx="79.64" cy="389.80" r="1.48" fill="#fff" stroke="#0000ff" stroke-width="1.1"/>
<circle cx="92.90" cy="389.80" r="1.48" fill="#fff" stroke="#0000ff" stroke-width="1.1"/>
<circle cx="106.16" cy="389.80" r="1.48" fill="#fff" stroke="#0000ff" stroke-width="1.1"/>
<circle cx="119.42" cy="389.80" r="1.48" fill="#fff" stroke="#0000ff" stroke-width="1.1"/>
<circle cx="132.68" cy="389.80" r="1.48" fill="#fff" stroke="#0000ff" stroke-width="1.1"/>
<circle cx="145.94" cy="389.80" r="1.48" fill="#fff" stroke="#0000ff" stroke-width="1.1"/>
<circle cx="159.20" cy="389.80" r="1.48" fill="#fff" stroke="#0000ff" stroke-width="1.1"/>
<polyline points="26.80,306.50 27.00,370.00 27.30,384.00 29.30,388.00 32.00,389.00 39.80,389.80 45.00,391.00 53.10,392.00 66.30,392.50 79.64,392.50 92.90,392.50 106.16,392.50 119.42,392.50 132.68,392.50 145.94,392.50 159.20,392.50" fill="none" stroke="#ff0000" stroke-width="1.17" stroke-linejoin="round" stroke-linecap="round"/>
<path d="M29.30,385.33 L29.93,387.14 L31.84,387.18 L30.32,388.33 L30.87,390.16 L29.30,389.07 L27.73,390.16 L28.28,388.33 L26.76,387.18 L28.67,387.14 Z" fill="#ff0000" stroke="#ff0000" stroke-width="0.5"/>
<path d="M39.80,387.13 L40.43,388.94 L42.34,388.98 L40.82,390.13 L41.37,391.96 L39.80,390.87 L38.23,391.96 L38.78,390.13 L37.26,388.98 L39.17,388.94 Z" fill="#ff0000" stroke="#ff0000" stroke-width="0.5"/>
<path d="M53.10,389.33 L53.73,391.14 L55.64,391.18 L54.12,392.33 L54.67,394.16 L53.10,393.07 L51.53,394.16 L52.08,392.33 L50.56,391.18 L52.47,391.14 Z" fill="#ff0000" stroke="#ff0000" stroke-width="0.5"/>
<path d="M66.30,389.83 L66.93,391.64 L68.84,391.68 L67.32,392.83 L67.87,394.66 L66.30,393.57 L64.73,394.66 L65.28,392.83 L63.76,391.68 L65.67,391.64 Z" fill="#ff0000" stroke="#ff0000" stroke-width="0.5"/>
<path d="M79.64,389.83 L80.27,391.64 L82.18,391.68 L80.66,392.83 L81.21,394.66 L79.64,393.57 L78.07,394.66 L78.62,392.83 L77.10,391.68 L79.01,391.64 Z" fill="#ff0000" stroke="#ff0000" stroke-width="0.5"/>
<path d="M92.90,389.83 L93.53,391.64 L95.44,391.68 L93.92,392.83 L94.47,394.66 L92.90,393.57 L91.33,394.66 L91.88,392.83 L90.36,391.68 L92.27,391.64 Z" fill="#ff0000" stroke="#ff0000" stroke-width="0.5"/>
<path d="M106.16,389.83 L106.79,391.64 L108.70,391.68 L107.18,392.83 L107.73,394.66 L106.16,393.57 L104.59,394.66 L105.14,392.83 L103.62,391.68 L105.53,391.64 Z" fill="#ff0000" stroke="#ff0000" stroke-width="0.5"/>
<path d="M119.42,389.83 L120.05,391.64 L121.96,391.68 L120.44,392.83 L120.99,394.66 L119.42,393.57 L117.85,394.66 L118.40,392.83 L116.88,391.68 L118.79,391.64 Z" fill="#ff0000" stroke="#ff0000" stroke-width="0.5"/>
<path d="M132.68,389.83 L133.31,391.64 L135.22,391.68 L133.70,392.83 L134.25,394.66 L132.68,393.57 L131.11,394.66 L131.66,392.83 L130.14,391.68 L132.05,391.64 Z" fill="#ff0000" stroke="#ff0000" stroke-width="0.5"/>
<path d="M145.94,389.83 L146.57,391.64 L148.48,391.68 L146.96,392.83 L147.51,394.66 L145.94,393.57 L144.37,394.66 L144.92,392.83 L143.40,391.68 L145.31,391.64 Z" fill="#ff0000" stroke="#ff0000" stroke-width="0.5"/>
<path d="M159.20,389.83 L159.83,391.64 L161.74,391.68 L160.22,392.83 L160.77,394.66 L159.20,393.57 L157.63,394.66 L158.18,392.83 L156.66,391.68 L158.57,391.64 Z" fill="#ff0000" stroke="#ff0000" stroke-width="0.5"/>
<text x="26.60" y="411.91" font-size="4.48" text-anchor="middle" fill="#262626">0</text>
<text x="53.12" y="411.91" font-size="4.48" text-anchor="middle" fill="#262626">100</text>
<text x="79.64" y="411.91" font-size="4.48" text-anchor="middle" fill="#262626">200</text>
<text x="106.16" y="411.91" font-size="4.48" text-anchor="middle" fill="#262626">300</text>
<text x="132.68" y="411.91" font-size="4.48" text-anchor="middle" fill="#262626">400</text>
<text x="159.20" y="411.91" font-size="4.48" text-anchor="middle" fill="#262626">500</text>
<text x="24.79" y="303.11" font-size="4.48" text-anchor="end" fill="#262626">10<tspan font-size="3.14" dy="-2.02">10</tspan></text>
<text x="24.79" y="320.56" font-size="4.48" text-anchor="end" fill="#262626">10<tspan font-size="3.14" dy="-2.02">8</tspan></text>
<text x="24.79" y="338.01" font-size="4.48" text-anchor="end" fill="#262626">10<tspan font-size="3.14" dy="-2.02">6</tspan></text>
<text x="24.79" y="355.46" font-size="4.48" text-anchor="end" fill="#262626">10<tspan font-size="3.14" dy="-2.02">4</tspan></text>
<text x="24.79" y="372.91" font-size="4.48" text-anchor="end" fill="#262626">10<tspan font-size="3.14" dy="-2.02">2</tspan></text>
<text x="24.79" y="390.36" font-size="4.48" text-anchor="end" fill="#262626">10<tspan font-size="3.14" dy="-2.02">0</tspan></text>
<text x="24.79" y="407.81" font-size="4.48" text-anchor="end" fill="#262626">10<tspan font-size="3.14" dy="-2.02">-2</tspan></text>
<text x="92.90" y="299.78" font-size="4.77" text-anchor="middle" fill="#262626" class="t">F13</text>
<text x="92.90" y="417.87" font-size="4.62" text-anchor="middle" fill="#262626" class="b">number of iterations</text>
<text x="0" y="0" font-size="4.62" text-anchor="middle" fill="#262626" class="b" transform="translate(14.39,353.85) rotate(-90)">fitness value</text>
<rect x="128.70" y="304.36" width="27.64" height="11.25" fill="#fff" stroke="#a6a6a6" stroke-width="0.7"/>
<line x1="130.60" y1="307.41" x2="142.52" y2="307.41" stroke="#0000ff" stroke-width="0.9"/>
<circle cx="136.32" cy="307.41" r="1.48" fill="#fff" stroke="#0000ff" stroke-width="1.1"/>
<text x="143.47" y="309.02" font-size="3.77" fill="#222" stroke="#222" stroke-width="0.12">WOA</text>
<line x1="130.60" y1="312.27" x2="142.52" y2="312.27" stroke="#ff0000" stroke-width="0.9"/>
<path d="M136.32,309.60 L136.95,311.41 L138.86,311.45 L137.34,312.60 L137.89,314.43 L136.32,313.34 L134.75,314.43 L135.31,312.60 L133.78,311.45 L135.69,311.41 Z" fill="#ff0000" stroke="#ff0000" stroke-width="0.5"/>
<text x="143.47" y="313.88" font-size="3.77" fill="#222" stroke="#222" stroke-width="0.12">RWOA</text>
<rect x="224.40" y="303.50" width="127.10" height="100.50" fill="#fff" stroke="none"/>
<rect x="224.40" y="303.50" width="127.10" height="100.50" fill="none" stroke="#a6a6a6" stroke-width="0.8"/>
<path d="M224.40,404.00v-1.19M224.40,303.50v1.19M249.82,404.00v-1.19M249.82,303.50v1.19M275.24,404.00v-1.19M275.24,303.50v1.19M300.66,404.00v-1.19M300.66,303.50v1.19M326.08,404.00v-1.19M326.08,303.50v1.19M351.50,404.00v-1.19M351.50,303.50v1.19M224.40,310.10h1.19M351.50,310.10h-1.19M224.40,341.40h1.19M351.50,341.40h-1.19M224.40,372.70h1.19M351.50,372.70h-1.19M224.40,404.00h1.19M351.50,404.00h-1.19" stroke="#444" stroke-width="0.9" fill="none"/>
<path d="M224.40,394.58h1.19M351.50,394.58h-1.19M224.40,389.07h1.19M351.50,389.07h-1.19M224.40,385.16h1.19M351.50,385.16h-1.19M224.40,382.12h1.19M351.50,382.12h-1.19M224.40,379.64h1.19M351.50,379.64h-1.19M224.40,377.55h1.19M351.50,377.55h-1.19M224.40,375.73h1.19M351.50,375.73h-1.19M224.40,374.13h1.19M351.50,374.13h-1.19M224.40,363.28h1.19M351.50,363.28h-1.19M224.40,357.77h1.19M351.50,357.77h-1.19M224.40,353.86h1.19M351.50,353.86h-1.19M224.40,350.82h1.19M351.50,350.82h-1.19M224.40,348.34h1.19M351.50,348.34h-1.19M224.40,346.25h1.19M351.50,346.25h-1.19M224.40,344.43h1.19M351.50,344.43h-1.19M224.40,342.83h1.19M351.50,342.83h-1.19M224.40,331.98h1.19M351.50,331.98h-1.19M224.40,326.47h1.19M351.50,326.47h-1.19M224.40,322.56h1.19M351.50,322.56h-1.19M224.40,319.52h1.19M351.50,319.52h-1.19M224.40,317.04h1.19M351.50,317.04h-1.19M224.40,314.95h1.19M351.50,314.95h-1.19M224.40,313.13h1.19M351.50,313.13h-1.19M224.40,311.53h1.19M351.50,311.53h-1.19" stroke="#a0a0a0" stroke-width="0.9" fill="none"/>
<polyline points="224.80,303.50 225.00,342.00 225.50,343.00 228.00,343.50 229.00,345.00 229.50,350.00 230.00,363.00 230.50,372.00 231.50,375.00 232.50,376.30 237.11,376.40 249.82,376.40 262.53,376.40 275.24,376.40 287.95,376.40 300.66,376.40 313.37,376.40 326.08,376.40 338.79,376.40 351.50,376.40" fill="none" stroke="#0000ff" stroke-width="1.15" stroke-linejoin="round" stroke-linecap="round"/>
<circle cx="227.30" cy="344.30" r="1.42" fill="#fff" stroke="#0000ff" stroke-width="1.1"/>
<circle cx="237.11" cy="376.40" r="1.42" fill="#fff" stroke="#0000ff" stroke-width="1.1"/>
<circle cx="249.82" cy="376.40" r="1.42" fill="#fff" stroke="#0000ff" stroke-width="1.1"/>
<circle cx="262.53" cy="376.40" r="1.42" fill="#fff" stroke="#0000ff" stroke-width="1.1"/>
<circle cx="275.24" cy="376.40" r="1.42" fill="#fff" stroke="#0000ff" stroke-width="1.1"/>
<circle cx="287.95" cy="376.40" r="1.42" fill="#fff" stroke="#0000ff" stroke-width="1.1"/>
<circle cx="300.66" cy="376.40" r="1.42" fill="#fff" stroke="#0000ff" stroke-width="1.1"/>
<circle cx="313.37" cy="376.40" r="1.42" fill="#fff" stroke="#0000ff" stroke-width="1.1"/>
<circle cx="326.08" cy="376.40" r="1.42" fill="#fff" stroke="#0000ff" stroke-width="1.1"/>
<circle cx="338.79" cy="376.40" r="1.42" fill="#fff" stroke="#0000ff" stroke-width="1.1"/>
<circle cx="351.50" cy="376.40" r="1.42" fill="#fff" stroke="#0000ff" stroke-width="1.1"/>
<polyline points="225.20,312.00 225.70,343.00 226.50,348.00 227.00,355.00 227.50,365.00 227.80,373.00 228.50,376.00 230.50,377.00 231.00,383.00 232.50,384.20 237.10,384.30 240.00,385.50 242.00,386.00 249.82,386.01 262.53,386.11 275.24,386.20 287.95,386.30 300.66,386.40 313.37,386.50 326.08,386.60 338.79,386.70 351.50,386.80" fill="none" stroke="#ff0000" stroke-width="1.15" stroke-linejoin="round" stroke-linecap="round"/>
<path d="M226.50,345.44 L227.10,347.17 L228.93,347.21 L227.47,348.32 L228.00,350.07 L226.50,349.02 L225.00,350.07 L225.53,348.32 L224.07,347.21 L225.90,347.17 Z" fill="#ff0000" stroke="#ff0000" stroke-width="0.5"/>
<path d="M237.10,381.74 L237.70,383.47 L239.53,383.51 L238.07,384.62 L238.60,386.37 L237.10,385.32 L235.60,386.37 L236.13,384.62 L234.67,383.51 L236.50,383.47 Z" fill="#ff0000" stroke="#ff0000" stroke-width="0.5"/>
<path d="M249.82,383.45 L250.42,385.18 L252.25,385.22 L250.79,386.32 L251.32,388.08 L249.82,387.03 L248.32,388.08 L248.85,386.32 L247.39,385.22 L249.22,385.18 Z" fill="#ff0000" stroke="#ff0000" stroke-width="0.5"/>
<path d="M262.53,383.55 L263.13,385.28 L264.96,385.31 L263.50,386.42 L264.03,388.18 L262.53,387.13 L261.03,388.18 L261.56,386.42 L260.10,385.31 L261.93,385.28 Z" fill="#ff0000" stroke="#ff0000" stroke-width="0.5"/>
<path d="M275.24,383.65 L275.84,385.38 L277.67,385.41 L276.21,386.52 L276.74,388.27 L275.24,387.23 L273.74,388.27 L274.27,386.52 L272.81,385.41 L274.64,385.38 Z" fill="#ff0000" stroke="#ff0000" stroke-width="0.5"/>
<path d="M287.95,383.75 L288.55,385.48 L290.38,385.51 L288.92,386.62 L289.45,388.37 L287.95,387.33 L286.45,388.37 L286.98,386.62 L285.52,385.51 L287.35,385.48 Z" fill="#ff0000" stroke="#ff0000" stroke-width="0.5"/>
<path d="M300.66,383.84 L301.26,385.58 L303.09,385.61 L301.63,386.72 L302.16,388.47 L300.66,387.43 L299.16,388.47 L299.69,386.72 L298.23,385.61 L300.06,385.58 Z" fill="#ff0000" stroke="#ff0000" stroke-width="0.5"/>
<path d="M313.37,383.94 L313.97,385.67 L315.80,385.71 L314.34,386.82 L314.87,388.57 L313.37,387.53 L311.87,388.57 L312.40,386.82 L310.94,385.71 L312.77,385.67 Z" fill="#ff0000" stroke="#ff0000" stroke-width="0.5"/>
<path d="M326.08,384.04 L326.68,385.77 L328.51,385.81 L327.05,386.92 L327.58,388.67 L326.08,387.62 L324.58,388.67 L325.11,386.92 L323.65,385.81 L325.48,385.77 Z" fill="#ff0000" stroke="#ff0000" stroke-width="0.5"/>
<path d="M338.79,384.14 L339.39,385.87 L341.22,385.91 L339.76,387.02 L340.29,388.77 L338.79,387.72 L337.29,388.77 L337.82,387.02 L336.36,385.91 L338.19,385.87 Z" fill="#ff0000" stroke="#ff0000" stroke-width="0.5"/>
<path d="M351.50,384.24 L352.10,385.97 L353.93,386.01 L352.47,387.12 L353.00,388.87 L351.50,387.82 L350.00,388.87 L350.53,387.12 L349.07,386.01 L350.90,385.97 Z" fill="#ff0000" stroke="#ff0000" stroke-width="0.5"/>
<text x="224.40" y="409.48" font-size="4.29" text-anchor="middle" fill="#262626">0</text>
<text x="249.82" y="409.48" font-size="4.29" text-anchor="middle" fill="#262626">100</text>
<text x="275.24" y="409.48" font-size="4.29" text-anchor="middle" fill="#262626">200</text>
<text x="300.66" y="409.48" font-size="4.29" text-anchor="middle" fill="#262626">300</text>
<text x="326.08" y="409.48" font-size="4.29" text-anchor="middle" fill="#262626">400</text>
<text x="351.50" y="409.48" font-size="4.29" text-anchor="middle" fill="#262626">500</text>
<text x="222.66" y="311.65" font-size="4.29" text-anchor="end" fill="#262626">10<tspan font-size="3.01" dy="-1.93">-1</tspan></text>
<text x="222.66" y="342.95" font-size="4.29" text-anchor="end" fill="#262626">10<tspan font-size="3.01" dy="-1.93">-2</tspan></text>
<text x="222.66" y="374.25" font-size="4.29" text-anchor="end" fill="#262626">10<tspan font-size="3.01" dy="-1.93">-3</tspan></text>
<text x="222.66" y="405.55" font-size="4.29" text-anchor="end" fill="#262626">10<tspan font-size="3.01" dy="-1.93">-4</tspan></text>
<text x="287.95" y="301.86" font-size="4.57" text-anchor="middle" fill="#262626" class="t">F15</text>
<text x="287.95" y="415.19" font-size="4.43" text-anchor="middle" fill="#262626" class="b">number of iterations</text>
<text x="0" y="0" font-size="4.43" text-anchor="middle" fill="#262626" class="b" transform="translate(212.63,353.75) rotate(-90)">fitness value</text>
<rect x="322.26" y="306.24" width="26.50" height="10.78" fill="#fff" stroke="#a6a6a6" stroke-width="0.7"/>
<line x1="324.09" y1="309.17" x2="335.51" y2="309.17" stroke="#0000ff" stroke-width="0.9"/>
<circle cx="329.57" cy="309.17" r="1.42" fill="#fff" stroke="#0000ff" stroke-width="1.1"/>
<text x="336.42" y="310.71" font-size="3.61" fill="#222" stroke="#222" stroke-width="0.12">WOA</text>
<line x1="324.09" y1="313.83" x2="335.51" y2="313.83" stroke="#ff0000" stroke-width="0.9"/>
<path d="M329.57,311.27 L330.17,313.00 L332.00,313.03 L330.54,314.14 L331.07,315.89 L329.57,314.85 L328.07,315.89 L328.60,314.14 L327.14,313.03 L328.97,313.00 Z" fill="#ff0000" stroke="#ff0000" stroke-width="0.5"/>
<text x="336.42" y="315.37" font-size="3.61" fill="#222" stroke="#222" stroke-width="0.12">RWOA</text>
<rect x="412.50" y="303.00" width="128.00" height="101.50" fill="#fff" stroke="none"/>
<rect x="412.50" y="303.00" width="128.00" height="101.50" fill="none" stroke="#a6a6a6" stroke-width="0.8"/>
<path d="M412.50,404.50v-1.20M412.50,303.00v1.20M438.10,404.50v-1.20M438.10,303.00v1.20M463.70,404.50v-1.20M463.70,303.00v1.20M489.30,404.50v-1.20M489.30,303.00v1.20M514.90,404.50v-1.20M514.90,303.00v1.20M540.50,404.50v-1.20M540.50,303.00v1.20M412.50,318.50h1.20M540.50,318.50h-1.20M412.50,339.81h1.20M540.50,339.81h-1.20M412.50,354.92h1.20M540.50,354.92h-1.20M412.50,366.65h1.20M540.50,366.65h-1.20M412.50,376.23h1.20M540.50,376.23h-1.20M412.50,384.33h1.20M540.50,384.33h-1.20M412.50,391.35h1.20M540.50,391.35h-1.20M412.50,397.54h1.20M540.50,397.54h-1.20M412.50,403.08h1.20M540.50,403.08h-1.20" stroke="#444" stroke-width="0.9" fill="none"/>
<polyline points="412.70,303.00 413.00,330.00 414.90,335.30 415.50,340.00 415.80,344.30 417.00,345.10 425.30,345.30 438.10,345.30 450.90,345.30 463.70,345.30 476.50,345.30 489.30,345.30 502.10,345.30 514.90,345.30 527.70,345.30 540.50,345.30" fill="none" stroke="#0000ff" stroke-width="1.15" stroke-linejoin="round" stroke-linecap="round"/>
<circle cx="414.90" cy="335.30" r="1.43" fill="#fff" stroke="#0000ff" stroke-width="1.1"/>
<circle cx="425.30" cy="345.30" r="1.43" fill="#fff" stroke="#0000ff" stroke-width="1.1"/>
<circle cx="438.10" cy="345.30" r="1.43" fill="#fff" stroke="#0000ff" stroke-width="1.1"/>
<circle cx="450.90" cy="345.30" r="1.43" fill="#fff" stroke="#0000ff" stroke-width="1.1"/>
<circle cx="463.70" cy="345.30" r="1.43" fill="#fff" stroke="#0000ff" stroke-width="1.1"/>
<circle cx="476.50" cy="345.30" r="1.43" fill="#fff" stroke="#0000ff" stroke-width="1.1"/>
<circle cx="489.30" cy="345.30" r="1.43" fill="#fff" stroke="#0000ff" stroke-width="1.1"/>
<circle cx="502.10" cy="345.30" r="1.43" fill="#fff" stroke="#0000ff" stroke-width="1.1"/>
<circle cx="514.90" cy="345.30" r="1.43" fill="#fff" stroke="#0000ff" stroke-width="1.1"/>
<circle cx="527.70" cy="345.30" r="1.43" fill="#fff" stroke="#0000ff" stroke-width="1.1"/>
<circle cx="540.50" cy="345.30" r="1.43" fill="#fff" stroke="#0000ff" stroke-width="1.1"/>
<polyline points="412.70,312.00 413.00,340.00 413.50,375.00 414.50,377.00 415.00,386.00 415.50,395.00 416.50,400.50 420.00,401.20 424.00,403.50 426.00,404.00 438.10,404.00 450.90,404.00 463.70,404.00 476.50,404.00 489.30,404.00 502.10,404.00 514.90,404.00 527.70,404.00 540.50,404.00" fill="none" stroke="#ff0000" stroke-width="1.15" stroke-linejoin="round" stroke-linecap="round"/>
<path d="M415.00,383.42 L415.61,385.17 L417.45,385.20 L415.98,386.32 L416.51,388.08 L415.00,387.03 L413.49,388.08 L414.02,386.32 L412.55,385.20 L414.39,385.17 Z" fill="#ff0000" stroke="#ff0000" stroke-width="0.5"/>
<path d="M425.30,401.42 L425.91,403.17 L427.75,403.20 L426.28,404.32 L426.81,406.08 L425.30,405.03 L423.79,406.08 L424.32,404.32 L422.85,403.20 L424.69,403.17 Z" fill="#ff0000" stroke="#ff0000" stroke-width="0.5"/>
<path d="M438.10,401.42 L438.71,403.17 L440.55,403.20 L439.08,404.32 L439.61,406.08 L438.10,405.03 L436.59,406.08 L437.12,404.32 L435.65,403.20 L437.49,403.17 Z" fill="#ff0000" stroke="#ff0000" stroke-width="0.5"/>
<path d="M450.90,401.42 L451.51,403.17 L453.35,403.20 L451.88,404.32 L452.41,406.08 L450.90,405.03 L449.39,406.08 L449.92,404.32 L448.45,403.20 L450.29,403.17 Z" fill="#ff0000" stroke="#ff0000" stroke-width="0.5"/>
<path d="M463.70,401.42 L464.31,403.17 L466.15,403.20 L464.68,404.32 L465.21,406.08 L463.70,405.03 L462.19,406.08 L462.72,404.32 L461.25,403.20 L463.09,403.17 Z" fill="#ff0000" stroke="#ff0000" stroke-width="0.5"/>
<path d="M476.50,401.42 L477.11,403.17 L478.95,403.20 L477.48,404.32 L478.01,406.08 L476.50,405.03 L474.99,406.08 L475.52,404.32 L474.05,403.20 L475.89,403.17 Z" fill="#ff0000" stroke="#ff0000" stroke-width="0.5"/>
<path d="M489.30,401.42 L489.91,403.17 L491.75,403.20 L490.28,404.32 L490.81,406.08 L489.30,405.03 L487.79,406.08 L488.32,404.32 L486.85,403.20 L488.69,403.17 Z" fill="#ff0000" stroke="#ff0000" stroke-width="0.5"/>
<path d="M502.10,401.42 L502.71,403.17 L504.55,403.20 L503.08,404.32 L503.61,406.08 L502.10,405.03 L500.59,406.08 L501.12,404.32 L499.65,403.20 L501.49,403.17 Z" fill="#ff0000" stroke="#ff0000" stroke-width="0.5"/>
<path d="M514.90,401.42 L515.51,403.17 L517.35,403.20 L515.88,404.32 L516.41,406.08 L514.90,405.03 L513.39,406.08 L513.92,404.32 L512.45,403.20 L514.29,403.17 Z" fill="#ff0000" stroke="#ff0000" stroke-width="0.5"/>
<path d="M527.70,401.42 L528.31,403.17 L530.15,403.20 L528.68,404.32 L529.21,406.08 L527.70,405.03 L526.19,406.08 L526.72,404.32 L525.25,403.20 L527.09,403.17 Z" fill="#ff0000" stroke="#ff0000" stroke-width="0.5"/>
<path d="M540.50,401.42 L541.11,403.17 L542.95,403.20 L541.48,404.32 L542.01,406.08 L540.50,405.03 L538.99,406.08 L539.52,404.32 L538.05,403.20 L539.89,403.17 Z" fill="#ff0000" stroke="#ff0000" stroke-width="0.5"/>
<text x="412.50" y="410.01" font-size="4.32" text-anchor="middle" fill="#262626">0</text>
<text x="438.10" y="410.01" font-size="4.32" text-anchor="middle" fill="#262626">100</text>
<text x="463.70" y="410.01" font-size="4.32" text-anchor="middle" fill="#262626">200</text>
<text x="489.30" y="410.01" font-size="4.32" text-anchor="middle" fill="#262626">300</text>
<text x="514.90" y="410.01" font-size="4.32" text-anchor="middle" fill="#262626">400</text>
<text x="540.50" y="410.01" font-size="4.32" text-anchor="middle" fill="#262626">500</text>
<text x="411.40" y="320.06" font-size="4.32" text-anchor="end" fill="#262626">-1</text>
<text x="411.40" y="341.36" font-size="4.32" text-anchor="end" fill="#262626">-1.5</text>
<text x="411.40" y="356.48" font-size="4.32" text-anchor="end" fill="#262626">-2</text>
<text x="411.40" y="368.21" font-size="4.32" text-anchor="end" fill="#262626">-2.5</text>
<text x="411.40" y="377.79" font-size="4.32" text-anchor="end" fill="#262626">-3</text>
<text x="411.40" y="385.89" font-size="4.32" text-anchor="end" fill="#262626">-3.5</text>
<text x="411.40" y="392.91" font-size="4.32" text-anchor="end" fill="#262626">-4</text>
<text x="411.40" y="399.10" font-size="4.32" text-anchor="end" fill="#262626">-4.5</text>
<text x="411.40" y="404.63" font-size="4.32" text-anchor="end" fill="#262626">-5</text>
<text x="476.50" y="301.34" font-size="4.60" text-anchor="middle" fill="#262626" class="t">F23</text>
<text x="476.50" y="415.77" font-size="4.46" text-anchor="middle" fill="#262626" class="b">number of iterations</text>
<text x="0" y="0" font-size="4.46" text-anchor="middle" fill="#262626" class="b" transform="translate(401.64,353.75) rotate(-90)">fitness value</text>
<rect x="511.05" y="305.76" width="26.69" height="10.86" fill="#fff" stroke="#a6a6a6" stroke-width="0.7"/>
<line x1="512.89" y1="308.71" x2="524.40" y2="308.71" stroke="#0000ff" stroke-width="0.9"/>
<circle cx="518.42" cy="308.71" r="1.43" fill="#fff" stroke="#0000ff" stroke-width="1.1"/>
<text x="525.32" y="310.26" font-size="3.63" fill="#222" stroke="#222" stroke-width="0.12">WOA</text>
<line x1="512.89" y1="313.40" x2="524.40" y2="313.40" stroke="#ff0000" stroke-width="0.9"/>
<path d="M518.42,310.82 L519.02,312.56 L520.87,312.60 L519.40,313.72 L519.93,315.48 L518.42,314.43 L516.90,315.48 L517.43,313.72 L515.96,312.60 L517.81,312.56 Z" fill="#ff0000" stroke="#ff0000" stroke-width="0.5"/>
<text x="525.32" y="314.96" font-size="3.63" fill="#222" stroke="#222" stroke-width="0.12">RWOA</text>
</g>
</svg>
</body></html>
